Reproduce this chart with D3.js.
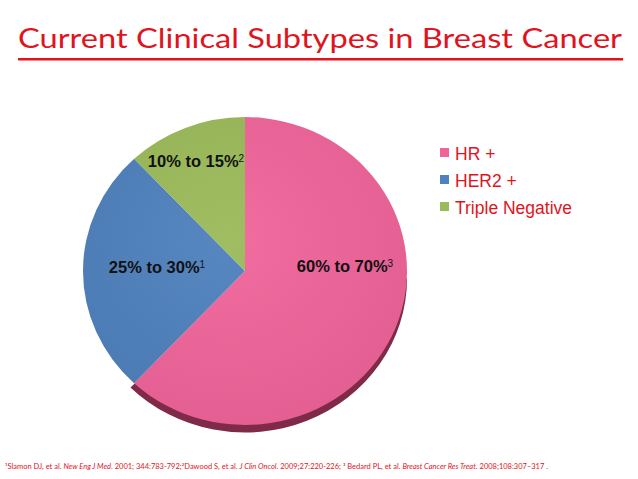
<!DOCTYPE html>
<html><head><meta charset="utf-8">
<script src="https://cdn.jsdelivr.net/npm/d3@7"></script>
<style>body{margin:0;background:#fff;}svg{display:block;}</style>
</head><body>
<svg id="c" width="638" height="479"></svg>
<script>
const categories = ["HR +", "HER2 +", "Triple Negative"];
const values = [62, 26, 12];
const sliceLabels = ["60% to 70%", "25% to 30%", "10% to 15%"];
const labelRefs = ["3", "1", "2"];
const colors = ["#F0649A", "#4F81BD", "#9BBB59"];
const titleText = "Current Clinical Subtypes in Breast Cancer";

const svg = d3.select("#c");
const red = "#E0141E";

// Title
svg.append("text").attr("x", 18).attr("y", 48)
  .attr("font-family", "Lato, 'Open Sans', sans-serif").attr("font-size", 27)
  .attr("fill", red).attr("textLength", 604).attr("lengthAdjust", "spacingAndGlyphs")
  .text(titleText);
svg.append("rect").attr("x", 18).attr("y", 58).attr("width", 605).attr("height", 2.5).attr("fill", red);

// Pie (slightly tilted: drawn as ellipse)
const cx = 245, cy = 271, r = 162, sy = 0.95;
const pie = d3.pie().sort(null).value(d => d);
const arcs = pie(values);
const arc = d3.arc().innerRadius(0).outerRadius(r);
const defs = svg.append("defs");
const g = svg.append("g").attr("transform", `translate(${cx},${cy}) scale(1,${sy})`);
// shadow edge
g.append("path").attr("d", d3.arc().innerRadius(0).outerRadius(r)({startAngle: Math.PI*0.5, endAngle: Math.PI*1.25}))
  .attr("transform", "translate(0,8)").attr("fill", "#7E2A48");
g.selectAll("path.s").data(arcs).enter().append("path").attr("class", "s")
  .attr("d", arc).attr("fill", (d, i) => colors[i]);
const rg = defs.append("radialGradient").attr("id", "sh").attr("cx", "45%").attr("cy", "40%").attr("r", "60%");
rg.append("stop").attr("offset", "0%").attr("stop-color", "#fff").attr("stop-opacity", 0.05);
rg.append("stop").attr("offset", "100%").attr("stop-color", "#000").attr("stop-opacity", 0.05);
g.append("circle").attr("r", r).attr("fill", "url(#sh)");

// Slice labels
const labelPos = [[345, 272], [157, 273], [196, 167]];
arcs.forEach((d, i) => {
  const t = svg.append("text").attr("x", labelPos[i][0]).attr("y", labelPos[i][1])
    .attr("text-anchor", "middle").attr("font-family", "'Liberation Sans', Arial, sans-serif")
    .attr("font-weight", "bold").attr("font-size", 16.5).attr("fill", "#111");
  t.append("tspan").text(sliceLabels[i]);
  t.append("tspan").attr("dy", -5).attr("font-size", 10).attr("font-weight", "normal").text(labelRefs[i]);
});

// Legend
const lg = svg.append("g");
categories.forEach((c, i) => {
  const y = 153 + i * 27;
  lg.append("rect").attr("x", 440).attr("y", y - 5).attr("width", 9).attr("height", 9).attr("fill", colors[i]);
  lg.append("text").attr("x", 455).attr("y", y + 6.5).attr("font-family", "'Liberation Sans', Arial, sans-serif")
    .attr("font-size", 17.5).attr("fill", red).text(c);
});

// Footnote
const parts = [
  ["¹Slamon DJ, et al. ", false], ["New Eng J Med", true], [". 2001; 344:783-792;²Dawood S, et al. ", false],
  ["J Clin Oncol", true], [". 2009;27:220-226; ³ Bedard PL, et al. ", false], ["Breast Cancer Res Treat", true],
  [". 2008;108:307–317 .", false]
];
const fn = svg.append("text").attr("x", 5).attr("y", 469).attr("font-family", "Lato, sans-serif")
  .attr("font-size", 7.4).attr("fill", red).attr("textLength", 543).attr("lengthAdjust", "spacingAndGlyphs");
parts.forEach(p => fn.append("tspan").attr("font-style", p[1] ? "italic" : "normal").text(p[0]));
</script>
</body></html>
